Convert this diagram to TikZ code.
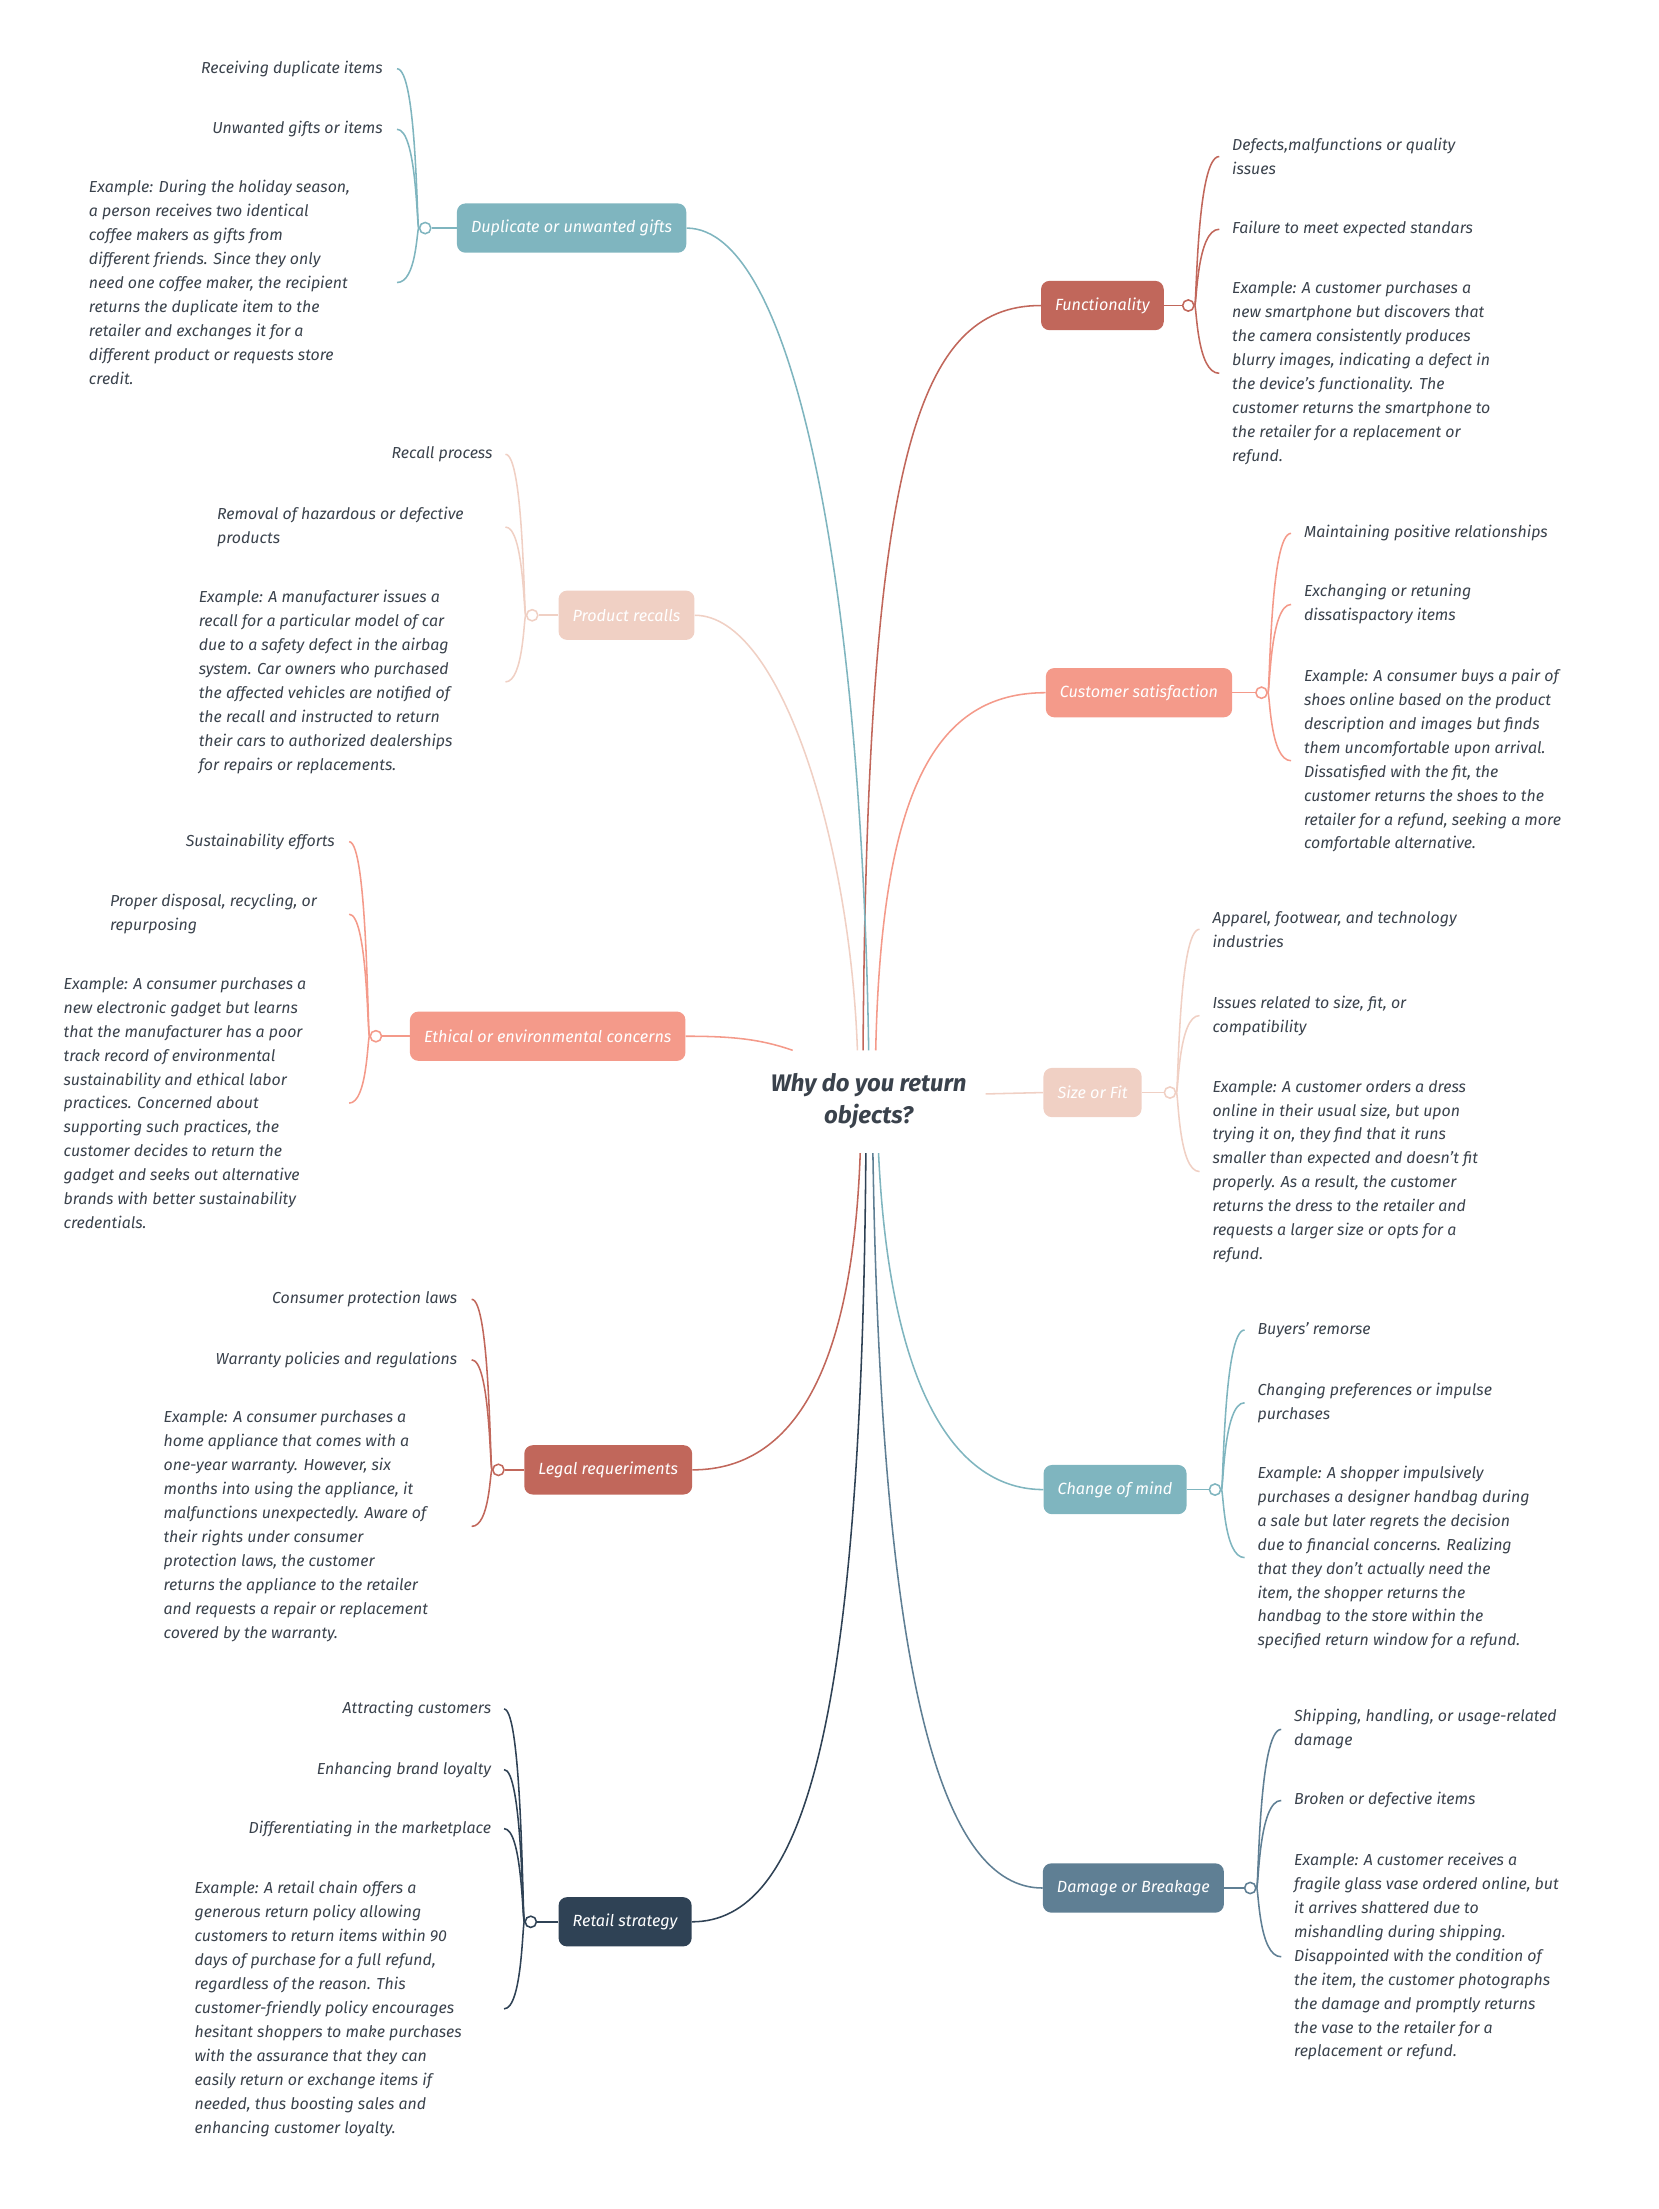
\documentclass[tikz,border=0pt]{standalone}
\usepackage{fontspec}
\setmainfont{Fira Sans}
\definecolor{cTeal}{HTML}{7FB5BF}
\definecolor{cRed}{HTML}{C1675B}
\definecolor{cSal}{HTML}{F49A8A}
\definecolor{cPea}{HTML}{F0D0C4}
\definecolor{cNav}{HTML}{2F4255}
\definecolor{cSla}{HTML}{5F7F94}
\definecolor{cTxt}{HTML}{3A424C}
\tikzset{
 box/.style={fill=#1,rounded corners=6pt,minimum height=35pt,inner xsep=10pt,text=white,font=\fontsize{11.5}{14}\selectfont\itshape},
 kidr/.style={anchor=north west,inner sep=0pt,align=left,text=cTxt,font=\fontsize{11.3}{17}\selectfont\itshape},
 kidl/.style={anchor=north east,inner sep=0pt,align=right,text=cTxt,font=\fontsize{11.3}{17}\selectfont\itshape},
 kidlb/.style={anchor=north west,inner sep=0pt,align=left,text=cTxt,font=\fontsize{11.3}{17}\selectfont\itshape},
 ln/.style={draw=#1,line width=1.1pt},
 dot/.style={circle,draw=#1,fill=white,line width=1.1pt,inner sep=0pt,minimum size=8pt},
}
\begin{document}
\begin{tikzpicture}[x=1pt,y=-1pt]
\useasboundingbox (0,0) rectangle (1178,1569);
\node[text=cTxt,align=center,font=\fontsize{17}{23}\selectfont\bfseries\itshape] (ct) at (617,782) {Why do you return\\objects?};
\coordinate (tN) at (618,746);
\coordinate (tS) at (618,819);

% ---------- boxes ----------
\node[box=cRed] (fun) at (783,217) {Functionality};
\node[box=cSal] (cus) at (809,492) {Customer satisfaction};
\node[box=cPea] (siz) at (776,776) {Size or Fit};
\node[box=cTeal] (chg) at (792,1058) {Change of mind};
\node[box=cSla] (dmg) at (805,1341) {Damage or Breakage};
\node[box=cTeal] (dup) at (406,162) {Duplicate or unwanted gifts};
\node[box=cPea] (prc) at (445,437) {Product recalls};
\node[box=cSal] (eth) at (389,736) {Ethical or environmental concerns};
\node[box=cRed] (leg) at (432,1044) {Legal requeriments};
\node[box=cNav] (ret) at (444,1365) {Retail strategy};

% ---------- main connectors ----------
\draw[ln=cRed] (613,746) .. controls (616,330) and (650,217) .. (fun.west);
\draw[ln=cSal] (622,746) .. controls (626,560) and (665,492) .. (cus.west);
\draw[ln=cPea] (700,777) -- (siz.west);
\draw[ln=cTeal] (dup.east) .. controls (565,162) and (612,420) .. (617,746);
\draw[ln=cPea] (prc.east) .. controls (555,437) and (604,600) .. (609,746);
\draw[ln=cSal] (eth.east) .. controls (520,736) and (540,738) .. (563,746);
\draw[ln=cRed] (611,819) .. controls (606,960) and (570,1044) .. (leg.east);
\draw[ln=cNav] (615,819) .. controls (612,1230) and (570,1365) .. (ret.east);
\draw[ln=cTeal] (624,819) .. controls (632,990) and (680,1058) .. (chg.west);
\draw[ln=cSla] (620,819) .. controls (626,1200) and (670,1341) .. (dmg.west);

% ---------- Functionality ----------
\node[dot=cRed] (fund) at (844,217) {};
\draw[ln=cRed] (fun.east) -- (fund.west);
\node[kidr] (f1) at (875,98) {Defects,malfunctions or quality\\issues};
\node[kidr] (f2) at (875,157) {Failure to meet expected standars};
\node[kidr] (f3) at (875,200) {Example: A customer purchases a\\new smartphone but discovers that\\the camera consistently produces\\blurry images, indicating a defect in\\the device's functionality. The\\customer returns the smartphone to\\the retailer for a replacement or\\refund.};
\foreach \k in {f1,f2,f3}{\draw[ln=cRed] (fund.east) .. controls (850,217) and (850,0|-\k.west) .. ([xshift=-9pt]\k.west);}

% ---------- Customer satisfaction ----------
\node[dot=cSal] (cusd) at (896,492) {};
\draw[ln=cSal] (cus.east) -- (cusd.west);
\node[kidr] (c1) at (926,373) {Maintaining positive relationships};
\node[kidr] (c2) at (926,415) {Exchanging or retuning\\dissatispactory items};
\node[kidr] (c3) at (926,475) {Example: A consumer buys a pair of\\shoes online based on the product\\description and images but finds\\them uncomfortable upon arrival.\\Dissatisfied with the fit, the\\customer returns the shoes to the\\retailer for a refund, seeking a more\\comfortable alternative.};
\foreach \k in {c1,c2,c3}{\draw[ln=cSal] (cusd.east) .. controls (902,492) and (902,0|-\k.west) .. ([xshift=-9pt]\k.west);}

% ---------- Size or Fit ----------
\node[dot=cPea] (sizd) at (831,776) {};
\draw[ln=cPea] (siz.east) -- (sizd.west);
\node[kidr] (s1) at (861,647) {Apparel, footwear, and technology\\industries};
\node[kidr] (s2) at (861,707) {Issues related to size, fit, or\\compatibility};
\node[kidr] (s3) at (861,767) {Example: A customer orders a dress\\online in their usual size, but upon\\trying it on, they find that it runs\\smaller than expected and doesn't fit\\properly. As a result, the customer\\returns the dress to the retailer and\\requests a larger size or opts for a\\refund.};
\foreach \k in {s1,s2,s3}{\draw[ln=cPea] (sizd.east) .. controls (837,776) and (837,0|-\k.west) .. ([xshift=-9pt]\k.west);}

% ---------- Change of mind ----------
\node[dot=cTeal] (chgd) at (863,1058) {};
\draw[ln=cTeal] (chg.east) -- (chgd.west);
\node[kidr] (m1) at (893,939) {Buyers' remorse};
\node[kidr] (m2) at (893,982) {Changing preferences or impulse\\purchases};
\node[kidr] (m3) at (893,1041) {Example: A shopper impulsively\\purchases a designer handbag during\\a sale but later regrets the decision\\due to financial concerns. Realizing\\that they don't actually need the\\item, the shopper returns the\\handbag to the store within the\\specified return window for a refund.};
\foreach \k in {m1,m2,m3}{\draw[ln=cTeal] (chgd.east) .. controls (869,1058) and (869,0|-\k.west) .. ([xshift=-9pt]\k.west);}

% ---------- Damage ----------
\node[dot=cSla] (dmgd) at (888,1341) {};
\draw[ln=cSla] (dmg.east) -- (dmgd.west);
\node[kidr] (d1) at (919,1214) {Shipping, handling, or usage-related\\damage};
\node[kidr] (d2) at (919,1273) {Broken or defective items};
\node[kidr] (d3) at (919,1316) {Example: A customer receives a\\fragile glass vase ordered online, but\\it arrives shattered due to\\mishandling during shipping.\\Disappointed with the condition of\\the item, the customer photographs\\the damage and promptly returns\\the vase to the retailer for a\\replacement or refund.};
\foreach \k in {d1,d2,d3}{\draw[ln=cSla] (dmgd.east) .. controls (894,1341) and (894,0|-\k.west) .. ([xshift=-9pt]\k.west);}

% ---------- Duplicate ----------
\node[dot=cTeal] (dupd) at (302,162) {};
\draw[ln=cTeal] (dup.west) -- (dupd.east);
\node[kidl] (u1) at (272,43) {Receiving duplicate items};
\node[kidl] (u2) at (272,86) {Unwanted gifts or items};
\node[kidlb] (u3) at (63,128) {Example: During the holiday season,\\a person receives two identical\\coffee makers as gifts from\\different friends. Since they only\\need one coffee maker, the recipient\\returns the duplicate item to the\\retailer and exchanges it for a\\different product or requests store\\credit.};
\foreach \k in {u1,u2}{\draw[ln=cTeal] (dupd.west) .. controls (296,162) and (296,0|-\k.east) .. ([xshift=10pt]\k.east);}
\draw[ln=cTeal] (dupd.west) .. controls (296,162) and (296,0|-u3.east) .. (282,0|-u3.east);

% ---------- Product recalls ----------
\node[dot=cPea] (prcd) at (378,437) {};
\draw[ln=cPea] (prc.west) -- (prcd.east);
\node[kidl] (p1) at (350,317) {Recall process};
\node[kidlb] (p2) at (154,360) {Removal of hazardous or defective\\products};
\node[kidlb] (p3) at (141,419) {Example: A manufacturer issues a\\recall for a particular model of car\\due to a safety defect in the airbag\\system. Car owners who purchased\\the affected vehicles are notified of\\the recall and instructed to return\\their cars to authorized dealerships\\for repairs or replacements.};
\foreach \k in {p1,p2,p3}{\draw[ln=cPea] (prcd.west) .. controls (372,437) and (372,0|-\k.east) .. (359,0|-\k.east);}

% ---------- Ethical ----------
\node[dot=cSal] (ethd) at (267,736) {};
\draw[ln=cSal] (eth.west) -- (ethd.east);
\node[kidl] (e1) at (238,592) {Sustainability efforts};
\node[kidlb] (e2) at (78,635) {Proper disposal, recycling, or\\repurposing};
\node[kidlb] (e3) at (45,694) {Example: A consumer purchases a\\new electronic gadget but learns\\that the manufacturer has a poor\\track record of environmental\\sustainability and ethical labor\\practices. Concerned about\\supporting such practices, the\\customer decides to return the\\gadget and seeks out alternative\\brands with better sustainability\\credentials.};
\foreach \k in {e1,e2,e3}{\draw[ln=cSal] (ethd.west) .. controls (261,736) and (261,0|-\k.east) .. (248,0|-\k.east);}

% ---------- Legal ----------
\node[dot=cRed] (legd) at (354,1044) {};
\draw[ln=cRed] (leg.west) -- (legd.east);
\node[kidl] (l1) at (325,917) {Consumer protection laws};
\node[kidl] (l2) at (325,960) {Warranty policies and regulations};
\node[kidlb] (l3) at (116,1002) {Example: A consumer purchases a\\home appliance that comes with a\\one-year warranty. However, six\\months into using the appliance, it\\malfunctions unexpectedly. Aware of\\their rights under consumer\\protection laws, the customer\\returns the appliance to the retailer\\and requests a repair or replacement\\covered by the warranty.};
\foreach \k in {l1,l2,l3}{\draw[ln=cRed] (legd.west) .. controls (348,1044) and (348,0|-\k.east) .. (335,0|-\k.east);}

% ---------- Retail ----------
\node[dot=cNav] (retd) at (377,1365) {};
\draw[ln=cNav] (ret.west) -- (retd.east);
\node[kidl] (r1) at (349,1208) {Attracting customers};
\node[kidl] (r2) at (349,1251) {Enhancing brand loyalty};
\node[kidl] (r3) at (349,1293) {Differentiating in the marketplace};
\node[kidlb] (r4) at (138,1336) {Example: A retail chain offers a\\generous return policy allowing\\customers to return items within 90\\days of purchase for a full refund,\\regardless of the reason. This\\customer-friendly policy encourages\\hesitant shoppers to make purchases\\with the assurance that they can\\easily return or exchange items if\\needed, thus boosting sales and\\enhancing customer loyalty.};
\foreach \k in {r1,r2,r3,r4}{\draw[ln=cNav] (retd.west) .. controls (371,1365) and (371,0|-\k.east) .. (358,0|-\k.east);}
\end{tikzpicture}
\end{document}
